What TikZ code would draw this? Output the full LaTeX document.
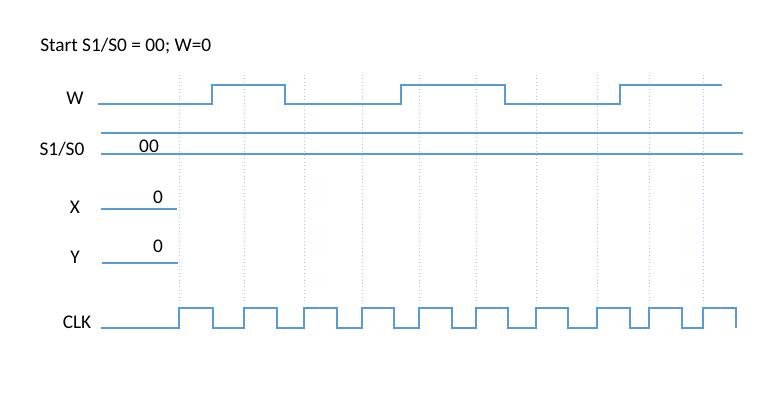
\documentclass[tikz,border=0pt]{standalone}
\usepackage{fontspec}
\setmainfont{Carlito}
\definecolor{sigblue}{RGB}{91,155,213}
\definecolor{gridblue}{RGB}{160,200,235}
\tikzset{
  signal/.style={color=sigblue, line width=1.5pt},
  tick/.style={color=gridblue, line width=0.6pt, dotted},
  label/.style={inner sep=0.75pt, font=\fontsize{14.5}{17}\selectfont}
}
\begin{document}
\begin{tikzpicture}[x=0.75pt,y=0.75pt,yscale=-1,xscale=1]
\useasboundingbox (0,0) rectangle (775,403);

%Dotted clock ticks
\foreach \t in {179,244,304,362,419,476,536,597,649,703}
  \draw [tick] (\t,75) -- (\t,303);

%Signal W
\draw [signal] (98,104) -- (212,104) -- (212,85) -- (285,85) -- (285,104) -- (401,104) -- (401,85) -- (505,85) -- (505,104) -- (620,104) -- (620,85) -- (722,85);
%Signal S1/S0
\draw [signal] (101,133) -- (743,133);
\draw [signal] (101,154) -- (743,154);
%Signal X
\draw [signal] (101,209) -- (177,209);
%Signal Y
\draw [signal] (102,263) -- (178,263);
%Signal CLK
\draw [signal] (101,328) -- (179,328) -- (179,308) -- (213,308) -- (213,328)
  -- (244,328) -- (244,308) -- (277,308) -- (277,328)
  -- (304,328) -- (304,308) -- (337,308) -- (337,328)
  -- (362,328) -- (362,308) -- (394,308) -- (394,328)
  -- (419,328) -- (419,308) -- (452,308) -- (452,328)
  -- (476,328) -- (476,308) -- (508,308) -- (508,328)
  -- (536,328) -- (536,308) -- (568,308) -- (568,328)
  -- (597,328) -- (597,308) -- (630,308) -- (630,328)
  -- (649,328) -- (649,308) -- (682,308) -- (682,328)
  -- (703,328) -- (703,308) -- (736,308) -- (736,328);

% Text Node
\node (title) [label, anchor=west] at (39,46) {Start S1/S0 = 00; W=0};
% Text Node
\node (lblW) [label] at (75,98) {W};
% Text Node
\node (lblS) [label] at (62,149) {S1/S0};
% Text Node
\node (lblX) [label] at (75,207) {X};
% Text Node
\node (lblY) [label] at (75,257) {Y};
% Text Node
\node (lblCLK) [label] at (77,322) {CLK};
% Text Node
\node (valS) [label] at (149,146) {00};
% Text Node
\node (valX) [label] at (158,197) {0};
% Text Node
\node (valY) [label] at (158,246) {0};
\end{tikzpicture}
\end{document}
